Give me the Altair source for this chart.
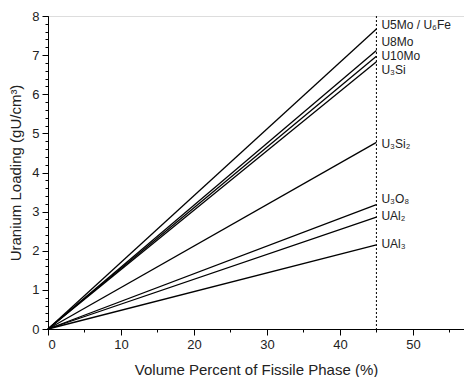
import altair as alt
import pandas as pd

# Data
materials = ["U5Mo / U₆Fe", "U8Mo", "U10Mo", "U₃Si", "U₃Si₂", "U₃O₈", "UAl₂", "UAl₃"]
loading_at_45 = [7.67, 7.12, 6.97, 6.83, 4.77, 3.18, 2.86, 2.15]
label_y = [7.78, 7.33, 6.97, 6.61, 4.72, 3.33, 2.90, 2.17]
vol_start = 0
vol_end = 45
x_major = [0, 10, 20, 30, 40, 50]
y_major = [0, 1, 2, 3, 4, 5, 6, 7, 8]

rows = []
for m, v in zip(materials, loading_at_45):
    rows.append({"material": m, "vol": vol_start, "load": 0.0})
    rows.append({"material": m, "vol": vol_end, "load": v})
lines_df = pd.DataFrame(rows)
labels_df = pd.DataFrame({"material": materials, "vol": [vol_end] * len(materials), "ly": label_y})

x_minor = [i * 5 for i in range(0, 12)]
y_minor = [round(i * 0.2, 1) for i in range(0, 41)]

xscale = alt.Scale(domain=[0, 57], nice=False, zero=False)
yscale = alt.Scale(domain=[0, 8], nice=False)

font = "Liberation Sans"
common = dict(grid=False, domainColor="black", tickColor="black", labelColor="#222",
              labelFont=font, titleFont=font, labelFontSize=13, titleFontSize=15,
              titleFontWeight="normal", titleColor="#222", labelOverlap=False)

x_axis = alt.Axis(title="Volume Percent of Fissile Phase (%)", values=x_major, tickSize=6,
                  labelPadding=3, titlePadding=11, **common)
y_axis = alt.Axis(title="Uranium Loading (gU/cm³)", values=y_major, tickSize=6,
                  labelPadding=3, titlePadding=8, **common)
x_axis_minor = alt.Axis(title=None, values=x_minor, tickSize=3, labels=False, domain=False,
                        grid=False, tickColor="black", orient="bottom")
y_axis_minor = alt.Axis(title=None, values=y_minor, tickSize=3, labels=False, domain=False,
                        grid=False, tickColor="black", orient="left")

lines = alt.Chart(lines_df).mark_line(color="black", strokeWidth=1.3).encode(
    x=alt.X("vol:Q", scale=xscale, axis=x_axis),
    y=alt.Y("load:Q", scale=yscale, axis=y_axis),
    detail="material:N",
)

minor = alt.Chart(lines_df).mark_point(opacity=0).encode(
    x=alt.X("vol:Q", scale=xscale, axis=x_axis_minor),
    y=alt.Y("load:Q", scale=yscale, axis=y_axis_minor),
)

rule = alt.Chart(pd.DataFrame({"vol": [vol_end]})).mark_rule(
    color="black", strokeDash=[2, 2], strokeWidth=1
).encode(x=alt.X("vol:Q", scale=xscale, axis=None))

labels = alt.Chart(labels_df).mark_text(
    align="left", baseline="middle", dx=5, font=font, fontSize=12, color="#222"
).encode(
    x=alt.X("vol:Q", scale=xscale, axis=None),
    y=alt.Y("ly:Q", scale=yscale, axis=None),
    text="material:N",
)

chart = alt.layer(lines, minor, rule, labels).resolve_axis(
    x="independent", y="independent"
).properties(
    width=416, height=313, padding={"left": 0, "top": 2, "right": 0, "bottom": 0}
).configure_view(stroke="black", strokeWidth=1.5).configure(background="white")

chart.save("out.html", embed_options={"renderer": "svg", "actions": False})
